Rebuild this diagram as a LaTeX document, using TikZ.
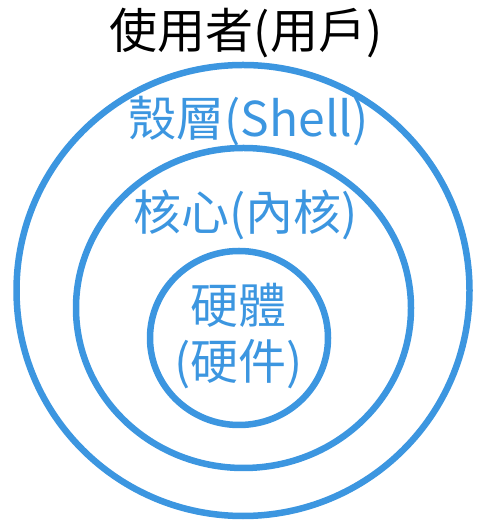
\documentclass[tikz,border=0pt]{standalone}
\usepackage{fontspec}
\setmainfont{Noto Sans CJK TC}
\usetikzlibrary{positioning}
\definecolor{ring_blue}{HTML}{3C96E0}
\tikzset{
    ring/.style={draw=ring_blue, line width=6.5pt},
    layer/.style={text=ring_blue, align=center, inner sep=0pt, font=\fontsize{48}{56}\selectfont},
    user/.style={text=black, inner sep=0pt, font=\fontsize{48}{56}\selectfont}
}

\begin{document}
\begin{tikzpicture}[x=1pt, y=1pt]
        \useasboundingbox (0,0) rectangle (482,526);

        % Rings
        \draw[ring] (243,235.5) ellipse [x radius=226.5pt, y radius=225.5pt];
        \draw[ring] (243.5,218) ellipse [x radius=167.5pt, y radius=160pt];
        \draw[ring] (239,188) ellipse [x radius=89pt, y radius=87pt];

        % Labels
        \node (User_label) [user] at (246,493) {使用者(用戶)};
        \node (Shell_label) [layer] at (248.5,405) {殼層(Shell)};
        \node (Kernel_label) [layer] at (245.5,311) {核心(內核)};
        \node (HW_label) [layer] at (238.5,190) {硬體\\(硬件)};

\end{tikzpicture}
\end{document}
